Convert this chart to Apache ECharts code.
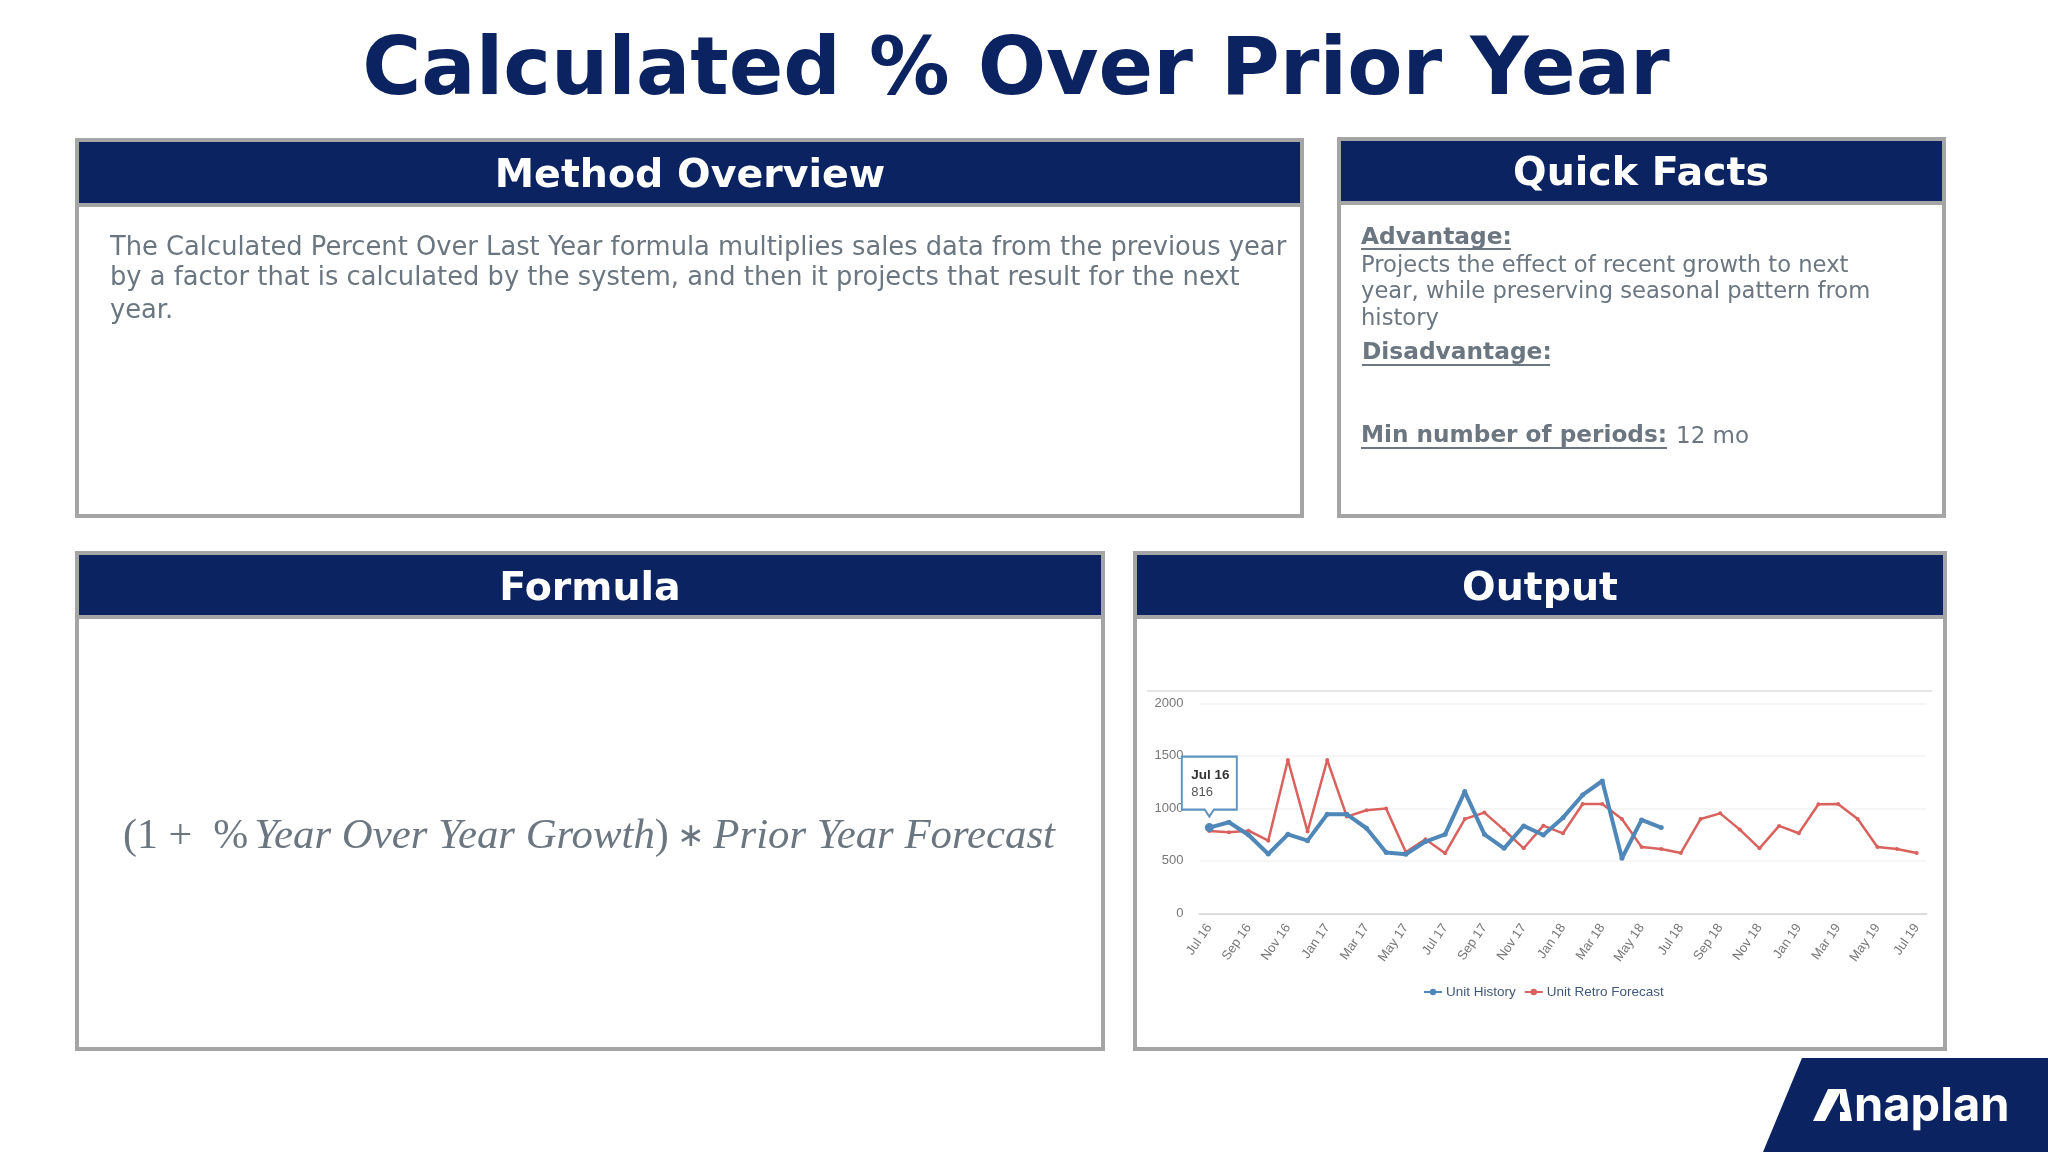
<!DOCTYPE html>
<html>
<head>
<meta charset="utf-8">
<style>html,body{margin:0;padding:0;background:#fff}#c{position:absolute;left:0;top:0;width:2048px;height:1152px}</style>
<script src="https://cdn.jsdelivr.net/npm/echarts@6/dist/echarts.min.js"></script>
</head>
<body>
<div id="c"></div>
<script>
const months = ['Jul 16','Aug 16','Sep 16','Oct 16','Nov 16','Dec 16','Jan 17','Feb 17','Mar 17','Apr 17','May 17','Jun 17','Jul 17','Aug 17','Sep 17','Oct 17','Nov 17','Dec 17','Jan 18','Feb 18','Mar 18','Apr 18','May 18','Jun 18','Jul 18','Aug 18','Sep 18','Oct 18','Nov 18','Dec 18','Jan 19','Feb 19','Mar 19','Apr 19','May 19','Jun 19','Jul 19'];
const unitHistory = [816,867,746,565,752,692,943,943,810,578,562,683,752,1159,752,619,832,746,911,1127,1260,524,889,816,null,null,null,null,null,null,null,null,null,null,null,null,null];
const unitRetroForecast = [784,771,787,692,1460,778,1460,921,981,997,584,705,571,898,959,794,619,835,762,1041,1041,898,632,613,575,898,952,797,619,832,762,1038,1041,898,632,613,575];
const yTicks = {min:0,max:2000,interval:500};
const navy='#0c2362', frame='#a5a5a5', body='#6b7680';
const sans='"DejaVu Sans"';

function rect(x,y,w,h,fill,stroke,lw){return {type:'rect',shape:{x,y,width:w,height:h},style:{fill:fill||'transparent',stroke:stroke||null,lineWidth:lw||0},silent:true};}
function txt(x,y,t,size,color,weight,align,family){return {type:'text',x,y,style:{text:t,fontSize:size,fill:color,fontWeight:weight||'normal',fontFamily:family||sans,textAlign:align||'left',textVerticalAlign:'middle'},silent:true};}
function line(x1,y1,x2,y2,c,w){return {type:'line',shape:{x1,y1,x2,y2},style:{stroke:c,lineWidth:w},silent:true};}
function panel(x1,y1,x2,y2,headBottom,title,cx,cy){
  return [
    rect(x1+2,y1+2,x2-x1-4,y2-y1-4,null,frame,4),
    rect(x1+4,y1+4,x2-x1-8,headBottom-y1-4,navy),
    line(x1+2,headBottom+2,x2-2,headBottom+2,frame,4),
    txt(cx,cy,title,39.5,'#fff','bold','center')
  ];
}
const g=[];
g.push(txt(1016,73,'Calculated % Over Prior Year',80.5,navy,'bold','center'));
g.push(...panel(75,138,1304,518,203,'Method Overview',690,177));
g.push(...panel(1337,137,1946,518,201,'Quick Facts',1641,175));
g.push(...panel(75,551,1105,1051,615,'Formula',590,590));
g.push(...panel(1133,551,1947,1051,615,'Output',1540,590));
g.push(txt(110,248,'The Calculated Percent Over Last Year formula multiplies sales data from the previous year',25.75,body));
g.push(txt(110,278,'by a factor that is calculated by the system, and then it projects that result for the next',25.75,body));
g.push(txt(110,311,'year.',25.75,body));
g.push(txt(1361,238,'Advantage:',23.3,body,'bold'));
g.push(line(1361,249,1511,249,body,2));
g.push(txt(1361,266,'Projects the effect of recent growth to next',22.65,body));
g.push(txt(1361,292,'year, while preserving seasonal pattern from',22.65,body));
g.push(txt(1361,319,'history',22.65,body));
g.push(txt(1362,353,'Disadvantage:',23.3,body,'bold'));
g.push(line(1362,365,1550,365,body,2));
g.push(txt(1361,436,'Min number of periods:',23.2,body,'bold'));
g.push(line(1361,448,1667,448,body,2));
g.push(txt(1676,437,'12 mo',23,body));
g.push({type:'text',x:123,y:837,style:{text:'{a|(1 +  %}{s| }{b|Year Over Year Growth}{a|)}{c| ∗ }{b|Prior Year Forecast}',fill:body,textVerticalAlign:'middle',rich:{
  a:{fontFamily:'"Liberation Serif"',fontSize:42,fill:body},
  s:{fontFamily:'"Liberation Serif"',fontSize:24,fill:body},
  c:{fontFamily:'"Liberation Serif"',fontSize:33,fill:body},
  b:{fontFamily:'"Liberation Serif"',fontStyle:'italic',fontSize:42.8,fill:body}}},silent:true});
g.push(line(1147,691,1932,691,'#dcdcdc',1.5));
// logo
g.push({type:'polygon',shape:{points:[[1802,1058],[2048,1058],[2048,1152],[1763,1152]]},style:{fill:navy},silent:true});
g.push({type:'polygon',shape:{points:[[1813,1121],[1828,1089],[1842,1089],[1825,1121]]},style:{fill:'#fff'},silent:true});
g.push({type:'polygon',shape:{points:[[1840,1089],[1846,1089],[1852,1121],[1840,1121],[1840,1112],[1845,1112],[1840,1103]]},style:{fill:'#fff'},silent:true});
g.push(txt(1854,1107,'naplan',47,'#fff','bold','left','Inter'));

const chart=echarts.init(document.getElementById('c'),null,{renderer:'canvas',width:2048,height:1152});
const blue='#4f87b8', red='#d9625f';
const axisText={color:'#777777',fontSize:13,fontFamily:'"Liberation Sans"'};
chart.setOption({
  animation:false,
  backgroundColor:'#fff',
  graphic:{elements:g},
  grid:{left:1199.5,top:703.3,width:727,height:210,containLabel:false},
  legend:{left:1418,top:980,itemWidth:18,itemHeight:8,itemGap:8,textStyle:{color:'#40597a',fontSize:13.5,fontFamily:'"Liberation Sans"',padding:[0,0,0,-1]},data:['Unit History','Unit Retro Forecast']},
  xAxis:{type:'category',data:months,boundaryGap:true,
    axisLine:{lineStyle:{color:'#dcdcdc',width:2}},
    axisTick:{alignWithLabel:true,interval:1,length:6,lineStyle:{color:'#dcdcdc',width:1}},
    axisLabel:Object.assign({interval:1,rotate:55,margin:12},axisText),
    splitLine:{show:false}},
  yAxis:{type:'value',min:yTicks.min,max:yTicks.max,interval:yTicks.interval,
    axisLine:{show:false},axisTick:{show:false},
    axisLabel:Object.assign({margin:16,formatter:v=>String(v)},axisText),
    splitLine:{lineStyle:{color:'#f3f3f3',width:1.5}}},
  series:[
    {name:'Unit History',type:'line',z:3,
     data:unitHistory.map((v,i)=>i===0?{value:v,symbolSize:9}:v),
     connectNulls:false,symbol:'circle',symbolSize:5,showSymbol:true,showAllSymbol:true,
     lineStyle:{color:blue,width:4},itemStyle:{color:blue},
     markPoint:{silent:true,z:6,animation:false,data:[{coord:[months[0],unitHistory[0]],
       symbol:'path://M0 0H55V53H32L27.5 60L23 53H0Z',symbolSize:[55,60],symbolOffset:[0,-41],
       itemStyle:{color:'#fff',borderColor:'#5f94c0',borderWidth:2},
       label:{show:true,position:'inside',offset:[1,-3],formatter:'{d|'+months[0]+'}\n{v|'+unitHistory[0]+'}',
         rich:{d:{fontFamily:'"Liberation Sans"',fontWeight:'bold',fontSize:13.5,color:'#333',lineHeight:17,align:'left'},
               v:{fontFamily:'"Liberation Sans"',fontSize:13,color:'#555',lineHeight:17,align:'left'}}}}]}},
    {name:'Unit Retro Forecast',type:'line',z:2,
     data:unitRetroForecast,symbol:'circle',symbolSize:4,showSymbol:true,showAllSymbol:true,
     lineStyle:{color:red,width:2.5},itemStyle:{color:red}}
  ]
});
</script>
</body>
</html>
